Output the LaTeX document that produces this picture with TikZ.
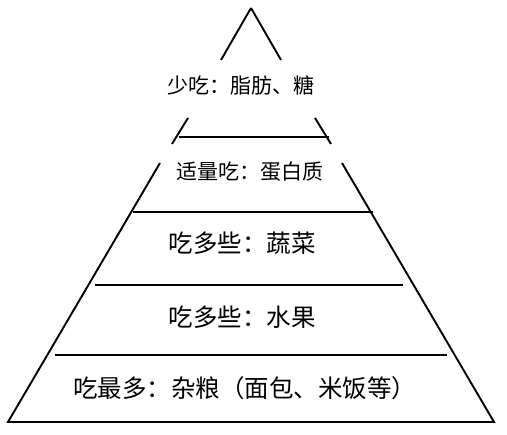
\documentclass[tikz,border=0pt]{standalone}
\usepackage{fontspec}
\newfontfamily\cjk{Noto Sans CJK SC}
\usetikzlibrary{positioning}

\begin{document}
\begin{tikzpicture}[x=1pt,y=-1pt,line width=1.9pt,
  small/.style={font=\cjk\fontsize{21}{25}\selectfont, inner sep=0pt},
  large/.style={font=\cjk\fontsize{24.5}{29}\selectfont, inner sep=0pt}]

\useasboundingbox (0,0) rectangle (507,435);

% corners of the pyramid
\coordinate (apex) at (251,8);
\coordinate (bl) at (8,422);
\coordinate (br) at (494,422);

% sides, broken round the top labels
\draw (apex) -- (221,60);
\draw (apex) -- (281,60);
\draw (188,118) -- (172,144);
\draw (315,118) -- (331,144);
\draw (160,163) -- (bl) -- (br) -- (342,163);

% layer lines
\draw (179,137) -- (329,137);
\draw (133,212) -- (373,212);
\draw (95,285) -- (403,285);
\draw (55,355) -- (447,355);

\node (fat) [small] at (241,86) {少吃：脂肪、糖};
\node (protein) [small] at (250,172) {适量吃：蛋白质};
\node (veg) [large] at (242,243) {吃多些：蔬菜};
\node (fruit) [large] at (242,317) {吃多些：水果};
\node (grain) [large] at (245,388) {吃最多：杂粮（面包、米饭等）};

\end{tikzpicture}
\end{document}
